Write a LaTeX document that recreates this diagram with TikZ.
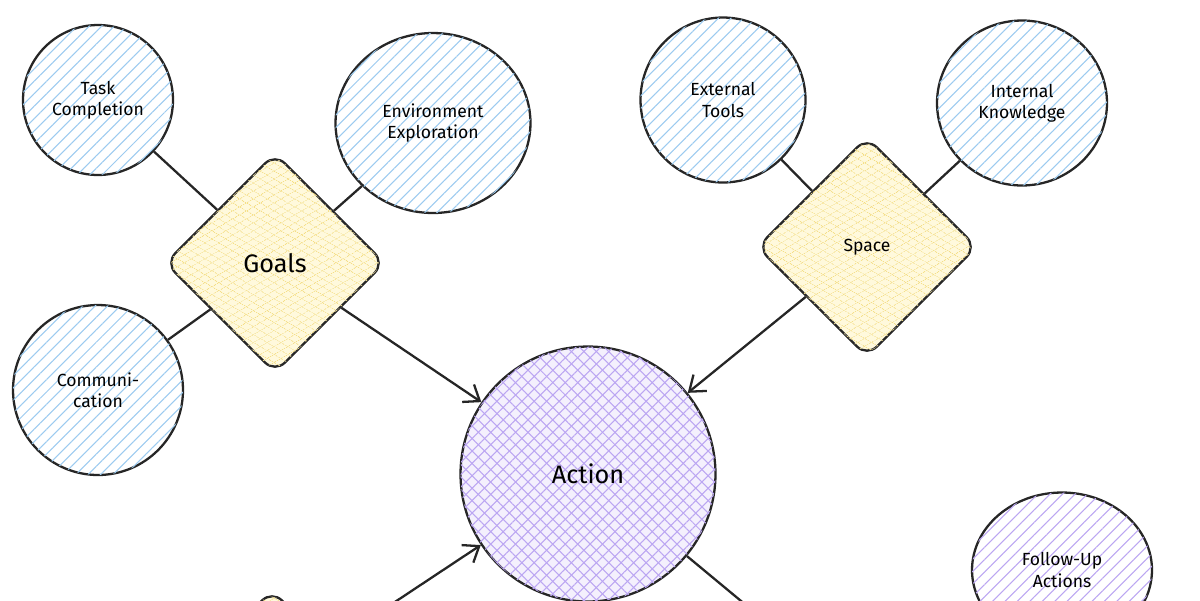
\documentclass[tikz,border=0pt]{standalone}
\usepackage{fontspec}
\setmainfont{Fira Sans}
\usetikzlibrary{shapes.geometric,patterns.meta,arrows.meta}
\definecolor{bline}{HTML}{9CCBF0}
\definecolor{yfill}{HTML}{FFF9DC}
\definecolor{yline}{HTML}{F5DE80}
\definecolor{pfill}{HTML}{F4F0FD}
\definecolor{pline}{HTML}{BBA6F2}
\begin{document}
\begin{tikzpicture}[x=0.02cm,y=-0.02cm,
  base/.style={draw=black!85,line width=1.3pt,align=center,inner sep=0pt,font=\normalsize},
  bc/.style={base,ellipse,fill=white,postaction={pattern={Lines[angle=45,distance=5pt,line width=0.6pt]},pattern color=bline}},
  pc/.style={base,ellipse,fill=pfill,postaction={pattern={Lines[angle=45,distance=5pt,line width=0.6pt]},pattern color=pline},postaction={pattern={Lines[angle=-45,distance=5pt,line width=0.6pt]},pattern color=pline}},
  pc2/.style={base,ellipse,fill=white,postaction={pattern={Lines[angle=45,distance=5pt,line width=0.6pt]},pattern color=pline}},
  yd/.style={base,diamond,aspect=1,rounded corners=8pt,fill=yfill,postaction={pattern={Lines[angle=30,distance=4pt,line width=0.5pt]},pattern color=yline},postaction={pattern={Lines[angle=-30,distance=4pt,line width=0.5pt]},pattern color=yline},minimum width=4.4cm,minimum height=4.4cm},
  con/.style={draw=black!85,line width=1.3pt},
  arr/.style={con,-{Straight Barb[length=8pt,width=12pt]}}]
\useasboundingbox (0,0) rectangle (1200,600);
\clip (0,0) rectangle (1200,600);
\node[bc,minimum width=3cm,minimum height=3cm] (task) at (98,100) {Task\\Completion};
\node[bc,minimum width=3.9cm,minimum height=3.6cm] (env) at (433,123) {Environment\\Exploration};
\node[bc,minimum width=3.4cm,minimum height=3.4cm] (comm) at (98,390) {Communi-\\cation};
\node[bc,minimum width=3.3cm,minimum height=3.3cm] (ext) at (723,100) {External\\Tools};
\node[bc,minimum width=3.4cm,minimum height=3.3cm] (int) at (1022,103) {Internal\\Knowledge};
\node[yd,font=\Large] (goals) at (275,263) {Goals};
\node[yd] (space) at (867,247) {Space};
\node[pc,minimum width=5.1cm,minimum height=5.1cm,font=\Large] (action) at (588,474) {Action};
\node[pc2,minimum width=3.6cm,minimum height=3.1cm] (follow) at (1062,570) {Follow-Up\\Actions};
\node[yd] (bot) at (272,700) {};
\coordinate (bstart) at (330,645);
\coordinate (bend) at (770,625);
\draw[con] (task) -- (goals);
\draw[con] (env) -- (goals);
\draw[con] (comm) -- (goals);
\draw[con] (ext) -- (space);
\draw[con] (int) -- (space);
\draw[arr] (goals) -- (action);
\draw[arr] (space) -- (action);
\draw[arr] (bstart) -- (action);
\draw[con] (action) -- (bend);
\end{tikzpicture}
\end{document}
